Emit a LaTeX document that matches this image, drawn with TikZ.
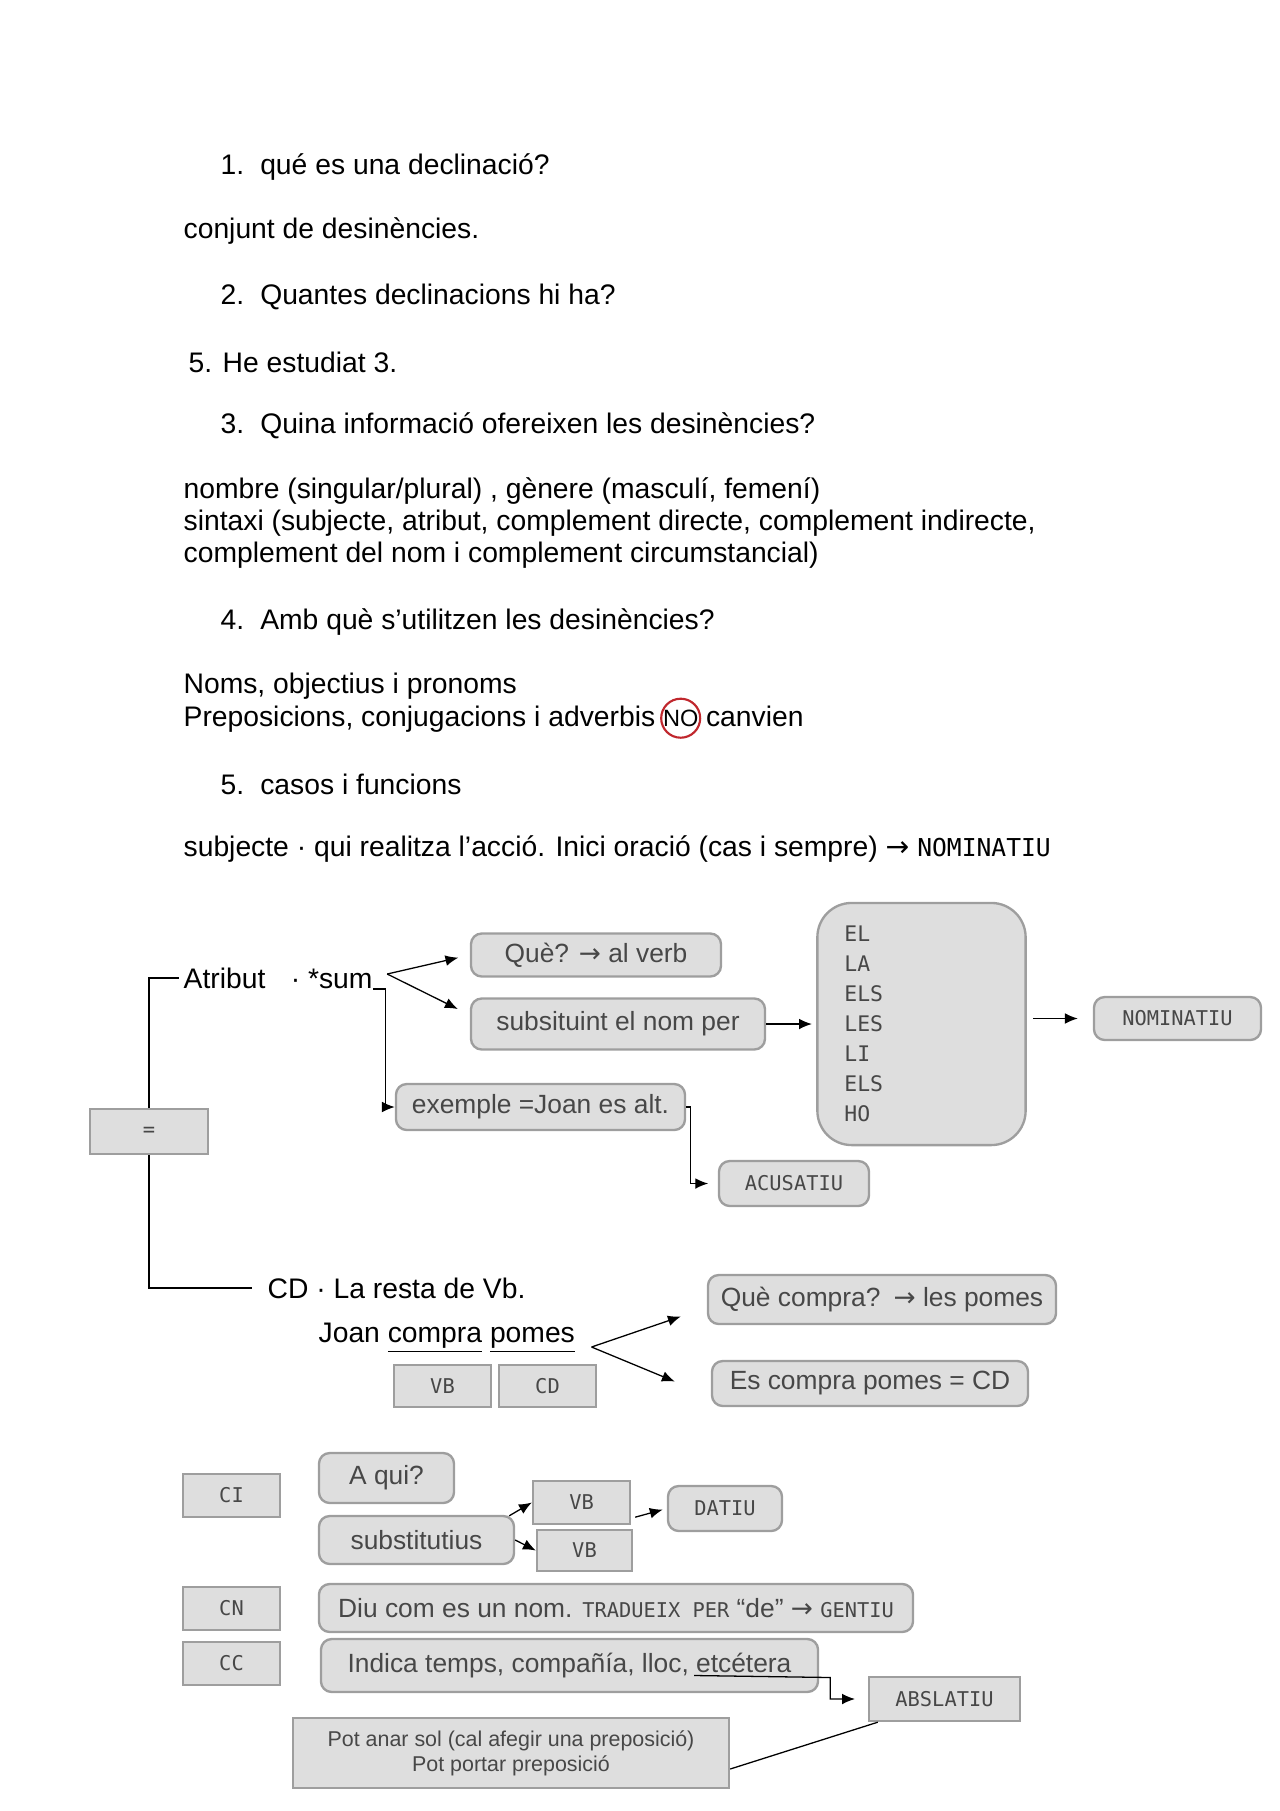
\documentclass[tikz,border=0pt]{standalone}
\usepackage{fontspec}
\setmainfont{Liberation Sans}
\newfontfamily\capsfont{DejaVu Sans Mono}
\newfontfamily\simbols{DejaVu Sans}
\usetikzlibrary{positioning,calc,arrows.meta}
\newcommand{\pxu}{0.4668pt}
\newcommand{\maj}[1]{{\capsfont\fontsize{9.5}{12}\selectfont #1}}
\newcommand{\fl}{{\simbols →}}
\definecolor{caixafons}{HTML}{DEDEDE}
\definecolor{caixavora}{HTML}{9E9E9E}
\definecolor{caixatext}{HTML}{474747}
\definecolor{vermell}{HTML}{C0272D}
\tikzset{
  linia/.style={anchor=west, inner sep=0pt, font=\fontsize{13.2}{15.1}\selectfont},
  caixa/.style={draw=caixavora, fill=caixafons, line width=1.1pt, rounded corners=5pt,
    text=caixatext, inner sep=0pt, font=\fontsize{12.3}{14}\selectfont},
  quadre/.style={caixa, sharp corners},
  majus/.style={font=\capsfont\fontsize{9.5}{12}\selectfont},
  mida/.style 2 args={minimum width=#1*\pxu, minimum height=#2*\pxu},
}
\begin{document}
\begin{tikzpicture}[x=0.01640625cm, y=-0.01640625cm, >={Latex[length=6pt,width=5pt]}, line width=0.6pt]
  \useasboundingbox (0,0) rectangle (1280,1811);
  % --- 1. Preguntes i respostes ---
  \node[linia] (q1) at (220,167) {\makebox[18.5pt][l]{1.}qué es una declinació?};
  \node[linia] (r1) at (183,231) {conjunt de desinències.};
  \node[linia] (q2) at (220,297) {\makebox[18.5pt][l]{2.}Quantes declinacions hi ha?};
  \node[linia] (r2) at (188,362) {5. He estudiat 3.};
  \node[linia] (q3) at (220,426) {\makebox[18.5pt][l]{3.}Quina informació ofereixen les desinències?};
  \node[linia, align=left] (r3) at (183,523) {nombre (singular/plural) , gènere (masculí, femení)\\
    sintaxi (subjecte, atribut, complement directe, complement indirecte,\\
    complement del nom i complement circumstancial)};
  \node[linia] (q4) at (220,622) {\makebox[18.5pt][l]{4.}Amb què s’utilitzen les desinències?};
  \node[linia] (r4a) at (183,686) {Noms, objectius i pronoms};
  \node[linia] (r4b) at (183,719) {Preposicions, conjugacions i adverbis};
  \node[linia, anchor=base west, inner xsep=3pt, font=\fontsize{11}{13}\selectfont] (no) at (r4b.base east) {NO};
  \node[linia, anchor=base west] (r4c) at (no.base east) {canvien};
  \draw[vermell, line width=1pt] (no.center) circle (19.5); % cercle vermell
  \node[linia] (q5) at (220,784) {\makebox[18.5pt][l]{5.}casos i funcions};
  \node[linia] (r5) at (183,849) {subjecte · qui realitza l’acció. Inici oració (cas i sempre) \fl\ {\capsfont\fontsize{11.5}{12}\selectfont NOMINATIU}};

  % --- 2. Atribut ---
  \node[linia] (atrib) at (183,978) {Atribut\hspace{0.9em}· *sum};
  \node[quadre, majus, mida={118}{45}] (igual) at (149,1131.5) {=};
  \node[caixa, mida={250}{43}] (qverb) at (596,955) {Què? \fl\ al verb};
  \node[caixa, mida={294}{51}] (subst) at (618,1024) {subsituint el nom per};
  \node[caixa, rounded corners=16pt, align=left, text width=72pt, inner xsep=12.6pt,
    minimum height=113pt, font=\capsfont\fontsize{10}{14}\selectfont] (pron) at (921.5,1024)
    {EL\\LA\\ELS\\LES\\LI\\ELS\\HO};
  \node[caixa, majus, mida={167}{43}] (nom) at (1177.5,1018.5) {NOMINATIU};
  \node[caixa, mida={289}{46}] (exem) at (540.5,1107) {exemple =Joan es alt.};
  \node[caixa, majus, mida={150}{45}] (acus) at (794,1183.5) {ACUSATIU};

  \coordinate (f1) at ($(atrib.east)+(14,-4)$);
  \draw[->, shorten >=5.5pt] (f1) -- (qverb.west);
  \draw[->] (f1) -- ($(subst.west)+(-12,-15)$);
  \draw[->, shorten >=2pt] (subst.east) -- (pron.west);
  \draw[->, shorten <=3pt, shorten >=7pt] (pron.east |- nom.west) -- (nom.west);
  \draw[->] (atrib.south east) -- ++(12,0) |- (exem.west);
  \draw[->, shorten >=4.5pt] (exem.east) -- ++(4,0) |- (acus.west);

  % --- 3. CD ---
  \node[linia] (cd) at (267,1288) {CD · La resta de Vb.};
  \node[linia] (joan) at (318,1338) {Joan \underline{compra} \underline{pomes}};
  \node[quadre, majus, mida={97}{42}] (vb1) at (442.5,1386) {VB};
  \node[quadre, majus, mida={97}{42}] (cd1) at (547.5,1386) {CD};
  \node[caixa, mida={348}{49}] (qcompra) at (882,1299.5) {Què compra?\enspace\fl\ les pomes};
  \node[caixa, mida={316}{45}] (escompra) at (870,1383.5) {Es compra pomes = CD};

  \draw[shorten <=2pt] (atrib.west) -| (igual.north);
  \draw[shorten >=7pt] (igual.south) |- (cd.west);
  \coordinate (f2) at ($(joan.east)+(16,9)$);
  \draw[->] (f2) -- ($(qcompra.west)+(-26,17)$);
  \draw[->] (f2) -- ($(escompra.west)+(-36,-2)$);

  % --- 4. CI, CN, CC ---
  \node[quadre, majus, mida={97}{43}] (ci) at (231.5,1495.5) {CI};
  \node[caixa, mida={135}{50}] (aqui) at (386.5,1478) {A qui?};
  \node[caixa, mida={195}{48}] (substit) at (416.5,1540) {substitutius};
  \node[quadre, majus, mida={97}{43}] (vb2) at (581.5,1502.5) {VB};
  \node[quadre, majus, mida={95}{41}] (vb3) at (584.5,1550.5) {VB};
  \node[caixa, majus, mida={114}{45}] (dat) at (725,1508.5) {DATIU};
  \draw[->] ($(substit.north east)+(-6,1)$) -- (vb2.west);
  \draw[->] (substit.east) -- (vb3.west);
  \draw[->, shorten >=2pt] ($(vb2.south east)+(4,-8)$) -- (dat.west);

  \node[quadre, majus, mida={97}{43}] (cn) at (231.5,1608.5) {CN};
  \node[caixa, mida={594}{48}] (gent) at (616,1608) {Diu com es un nom. \maj{TRADUEIX PER} “de” \fl\ \maj{GENTIU}};
  \node[quadre, majus, mida={97}{43}] (cc) at (231.5,1663.5) {CC};
  \node[caixa, mida={497}{53}] (indica) at (569.5,1665.5) {Indica temps, compañía, lloc, etcétera};
  \node[quadre, majus, mida={151}{44}] (abl) at (944.5,1699) {ABSLATIU};
  \node[quadre, mida={436}{70}, align=center, font=\fontsize{10}{11.5}\selectfont] (pot) at (511,1753)
    {Pot anar sol (cal afegir una preposició)\\Pot portar preposició};

  \coordinate (u1) at ($(indica.east)+(-125,10)$);
  \coordinate (u2) at ($(indica.east)+(11,12)$);
  \draw[->, shorten >=6pt] (u1) -- (u2) |- (abl.west);
  \draw ($(pot.east)+(0,16)$) -- ($(abl.south west)+(10,0)$);
\end{tikzpicture}
\end{document}
